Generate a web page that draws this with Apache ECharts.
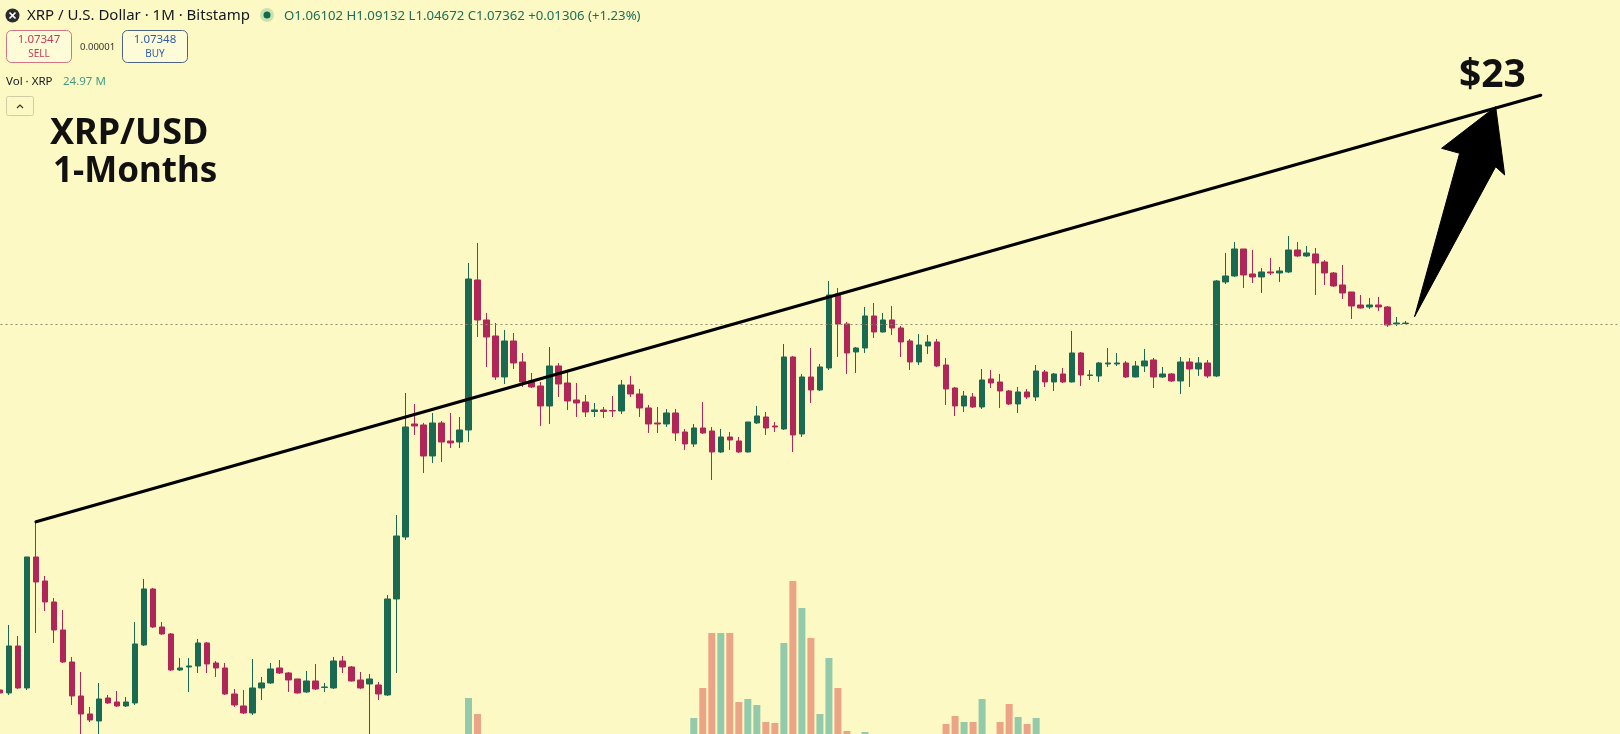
<!DOCTYPE html>
<html>
<head>
<meta charset="utf-8">
<script src="https://cdn.jsdelivr.net/npm/echarts/dist/echarts.min.js"></script>
<style>
  html, body { margin: 0; padding: 0; background: #fdf9c4; }
  #main { width: 1620px; height: 734px; }
</style>
</head>
<body>
<div id="main"></div>
<script>
// monthly candles: [open, close, low, high]
const candles = [
  [0.1563, 0.1488, 0.0313, 0.1863], [0.1488, 0.2663, 0.1438, 0.3188], [0.2663, 0.1613, 0.1588, 0.2913],
  [0.1613, 0.4888, 0.1563, 0.4888], [0.4888, 0.4263, 0.2988, 0.5770], [0.4288, 0.3763, 0.3538, 0.4413],
  [0.3763, 0.3063, 0.2738, 0.3863], [0.3063, 0.2263, 0.2238, 0.3563], [0.2263, 0.1413, 0.1188, 0.2388],
  [0.1413, 0.0963, 0.0313, 0.2013], [0.0963, 0.0813, 0.0763, 0.1138], [0.0788, 0.1338, 0.0313, 0.1738],
  [0.1363, 0.1238, 0.1213, 0.1438], [0.1263, 0.1163, 0.1138, 0.1538], [0.1163, 0.1263, 0.1138, 0.1388],
  [0.1238, 0.2713, 0.1188, 0.3263], [0.2688, 0.4088, 0.2663, 0.4338], [0.4088, 0.3138, 0.3113, 0.4113],
  [0.3138, 0.2963, 0.2938, 0.3263], [0.2963, 0.2063, 0.2038, 0.2988], [0.2063, 0.2113, 0.2038, 0.2363],
  [0.2138, 0.2163, 0.1513, 0.2363], [0.2163, 0.2738, 0.1988, 0.2838], [0.2738, 0.2213, 0.1988, 0.2763],
  [0.2238, 0.2113, 0.1888, 0.2288], [0.2113, 0.1463, 0.1438, 0.2238], [0.1463, 0.1188, 0.1138, 0.1588],
  [0.1163, 0.0988, 0.0963, 0.1563], [0.0988, 0.1613, 0.0938, 0.2338], [0.1613, 0.1738, 0.1313, 0.1888],
  [0.1738, 0.2088, 0.1713, 0.2238], [0.2113, 0.1988, 0.1963, 0.2313], [0.1988, 0.1813, 0.1513, 0.2013],
  [0.1838, 0.1488, 0.1475, 0.1838], [0.1513, 0.1788, 0.1488, 0.2038], [0.1788, 0.1588, 0.1563, 0.2213],
  [0.1625, 0.1638, 0.1513, 0.1738], [0.1613, 0.2288, 0.1588, 0.2388], [0.2288, 0.2138, 0.1988, 0.2413],
  [0.2138, 0.1788, 0.1775, 0.2163], [0.1813, 0.1613, 0.1588, 0.2013], [0.1713, 0.1838, 0.0188, 0.1963],
  [0.1688, 0.1463, 0.1313, 0.1763], [0.1438, 0.3838, 0.1413, 0.3938], [0.3838, 0.5413, 0.1988, 0.5938],
  [0.5388, 0.8138, 0.5313, 0.8988], [0.8213, 0.8163, 0.7938, 0.8713], [0.8188, 0.7413, 0.6988, 0.8238],
  [0.7413, 0.8238, 0.7238, 0.8488], [0.8238, 0.7763, 0.7263, 0.8288], [0.7788, 0.7738, 0.7613, 0.8488],
  [0.7763, 0.8063, 0.7613, 0.8388], [0.8063, 1.1838, 0.7763, 1.2238], [1.1813, 1.0813, 1.0388, 1.2738],
  [1.0813, 1.0388, 0.9638, 1.0988], [1.0413, 0.9388, 0.9313, 1.0738], [0.9388, 1.0288, 0.9213, 1.0563],
  [1.0288, 0.9738, 0.9588, 1.0488], [0.9763, 0.9263, 0.9138, 0.9988], [0.9288, 0.9138, 0.9113, 0.9488],
  [0.9163, 0.8663, 0.8163, 0.9263], [0.8663, 0.9663, 0.8213, 1.0138], [0.9663, 0.9213, 0.8888, 0.9738],
  [0.9238, 0.8788, 0.8563, 0.9563], [0.8813, 0.8738, 0.8388, 0.9238], [0.8763, 0.8513, 0.8388, 0.8938],
  [0.8525, 0.8563, 0.8388, 0.8738], [0.8563, 0.8525, 0.8363, 0.8638], [0.8550, 0.8538, 0.8388, 0.8913],
  [0.8538, 0.9188, 0.8463, 0.9313], [0.9188, 0.8963, 0.8888, 0.9413], [0.8963, 0.8613, 0.8388, 0.9088],
  [0.8613, 0.8213, 0.7988, 0.8688], [0.8238, 0.8213, 0.7988, 0.8638], [0.8213, 0.8488, 0.8138, 0.8588],
  [0.8488, 0.7988, 0.7788, 0.8588], [0.8013, 0.7713, 0.7563, 0.8088], [0.7713, 0.8113, 0.7638, 0.8213],
  [0.8113, 0.7988, 0.7963, 0.8763], [0.8038, 0.7513, 0.6813, 0.8138], [0.7513, 0.7888, 0.7488, 0.8088],
  [0.7888, 0.7813, 0.7563, 0.8013], [0.7788, 0.7513, 0.7488, 0.7888], [0.7513, 0.8263, 0.7500, 0.8263],
  [0.8238, 0.8413, 0.8213, 0.8663], [0.8388, 0.8113, 0.7938, 0.8513], [0.8163, 0.8138, 0.8013, 0.8263],
  [0.8088, 0.9888, 0.8063, 1.0213], [0.9888, 0.7938, 0.7513, 0.9913], [0.7963, 0.9388, 0.7888, 0.9463],
  [0.9388, 0.9063, 0.8738, 1.0113], [0.9063, 0.9638, 0.9038, 0.9713], [0.9613, 1.1438, 0.9563, 1.1788],
  [1.1463, 1.0713, 0.9888, 1.1613], [1.0713, 0.9988, 0.9463, 1.0763], [1.0013, 1.0113, 0.9488, 1.0138],
  [1.0113, 1.0913, 0.9988, 1.1138], [1.0913, 1.0513, 1.0363, 1.1238], [1.0513, 1.0813, 1.0500, 1.0988],
  [1.0813, 1.0613, 1.0438, 1.1163], [1.0613, 1.0263, 0.9888, 1.0663], [1.0288, 0.9763, 0.9563, 1.0338],
  [0.9763, 1.0188, 0.9688, 1.0463], [1.0163, 1.0263, 0.9963, 1.0438], [1.0263, 0.9663, 0.9638, 1.0338],
  [0.9688, 0.9088, 0.8688, 0.9863], [0.9113, 0.8663, 0.8413, 0.9138], [0.8663, 0.8913, 0.8513, 0.9038],
  [0.8888, 0.8638, 0.8613, 0.8988], [0.8638, 0.9313, 0.8588, 0.9588], [0.9338, 0.9238, 0.9113, 0.9563],
  [0.9263, 0.9038, 0.8613, 0.9463], [0.9038, 0.8713, 0.8688, 0.9063], [0.8713, 0.9013, 0.8488, 0.9138],
  [0.9013, 0.8888, 0.8838, 0.9088], [0.8888, 0.9538, 0.8788, 0.9688], [0.9513, 0.9263, 0.9138, 0.9563],
  [0.9263, 0.9463, 0.9038, 0.9488], [0.9463, 0.9263, 0.9238, 0.9613], [0.9263, 0.9988, 0.9250, 1.0538],
  [0.9988, 0.9438, 0.9163, 1.0013], [0.9425, 0.9438, 0.9313, 0.9563], [0.9413, 0.9738, 0.9263, 0.9763],
  [0.9713, 0.9738, 0.9638, 1.0113], [0.9713, 0.9738, 0.9663, 0.9988], [0.9738, 0.9388, 0.9363, 0.9788],
  [0.9388, 0.9663, 0.9375, 0.9788], [0.9663, 0.9788, 0.9513, 1.0088], [0.9813, 0.9388, 0.9113, 0.9863],
  [0.9388, 0.9463, 0.9363, 0.9638], [0.9463, 0.9288, 0.9263, 0.9488], [0.9288, 0.9763, 0.8963, 0.9888],
  [0.9763, 0.9588, 0.9138, 0.9863], [0.9588, 0.9738, 0.9413, 0.9888], [0.9738, 0.9413, 0.9363, 0.9813],
  [0.9413, 1.1788, 0.9388, 1.1813], [1.1763, 1.1913, 1.1713, 1.2488], [1.1913, 1.2588, 1.1888, 1.2763],
  [1.2588, 1.1938, 1.1613, 1.2588], [1.1963, 1.1888, 1.1738, 1.2563], [1.1888, 1.2013, 1.1488, 1.2113],
  [1.2013, 1.1988, 1.1938, 1.2363], [1.1988, 1.2038, 1.1763, 1.2138], [1.2013, 1.2563, 1.1988, 1.2913],
  [1.2563, 1.2413, 1.2388, 1.2763], [1.2413, 1.2488, 1.2388, 1.2663], [1.2463, 1.2238, 1.1438, 1.2613],
  [1.2263, 1.1988, 1.1688, 1.2313], [1.1988, 1.1663, 1.1638, 1.2013], [1.1688, 1.1488, 1.1338, 1.2188],
  [1.1513, 1.1163, 1.0838, 1.1513], [1.1188, 1.1113, 1.1100, 1.1438], [1.1138, 1.1188, 1.1088, 1.1363],
  [1.1188, 1.1138, 1.1038, 1.1388], [1.1138, 1.0688, 1.0638, 1.1163], [1.0713, 1.0738, 1.0663, 1.0888],
  [1.0725, 1.0736, 1.0713, 1.0788]
];

// monthly volume, millions of XRP
const volumes = [
  12, 18, 15, 30, 28, 20, 22, 19, 24, 26, 14, 22, 10, 11, 9, 25, 27, 21, 12, 20,
  11, 14, 16, 15, 10, 17, 12, 13, 18, 10, 14, 9, 11, 13, 10, 12, 8, 15, 10, 12,
  11, 16, 12, 30, 34, 38, 20, 25, 22, 19, 18, 24, 58, 50, 36, 34, 30, 28, 26, 18,
  32, 35, 27, 25, 20, 18, 14, 13, 15, 28, 22, 24, 30, 26, 33, 36, 38, 48, 63, 90.5,
  90.5, 90.5, 56, 57.5, 54.5, 46, 45.5, 85.5, 116.5, 103, 88, 50, 78, 63, 41.5, 36, 41, 37, 30, 34,
  35, 32, 30, 26, 38, 45, 49, 46, 46, 57.5, 37, 46, 55, 48.5, 45, 48, 36, 30, 32, 38,
  36, 24, 30, 27, 22, 31, 26, 28, 34, 22, 20, 35, 30, 26, 28, 39, 33, 36, 34, 30,
  28, 25, 24, 32, 26, 22, 34, 30, 27, 31, 33, 26, 24, 25, 30, 22, 24.97
];

const slotCount = 180;
const months = Array.from({ length: slotCount }, (_, i) => 'M' + (i + 1));

const lastClose = 1.0736;

// hand-drawn resistance line: [slot, price]
const trendLine = [[4, 0.577], [171.15, 1.643]];

// hand-drawn arrow outline: [slot, price]
const arrowShape = [
  [156.86, 1.0895], [162.04, 1.498], [160.01, 1.5105], [165.93, 1.6145],
  [167.4, 1.4438], [165.93, 1.4645], [157.41, 1.0895]
];

const upColor = '#1a6a51';
const downColor = '#b12659';
const upVol = '#93caab';
const downVol = '#eca486';
const slotW = 9.01;
const font = '"Noto Sans", "Open Sans", sans-serif';

const chart = echarts.init(document.getElementById('main'));

const volData = volumes.map((v, i) => ({
  value: v,
  itemStyle: { color: candles[i][1] >= candles[i][0] ? upVol : downVol }
}));

chart.setOption({
  backgroundColor: '#fdf9c4',
  animation: false,
  grid: [
    { left: -slotW / 2, width: slotCount * slotW, top: 0, height: 734, outerBoundsMode: 'none', containLabel: false },
    { left: -slotW / 2, width: slotCount * slotW, top: 514, height: 220, outerBoundsMode: 'none', containLabel: false }
  ],
  xAxis: [
    { type: 'category', data: months, gridIndex: 0, show: false },
    { type: 'category', data: months, gridIndex: 1, show: false }
  ],
  yAxis: [
    { type: 'value', gridIndex: 0, min: 0.04625, max: 1.88125, show: false, splitLine: { show: false } },
    // volume pane: bars below 40M fall under the bottom edge of the screenshot
    { type: 'value', gridIndex: 1, min: 40, max: 150, show: false, splitLine: { show: false } }
  ],
  series: [
    {
      type: 'bar',
      xAxisIndex: 1,
      yAxisIndex: 1,
      data: volData,
      barWidth: 7,
      clip: true,
      silent: true,
      z: 1
    },
    {
      type: 'candlestick',
      xAxisIndex: 0,
      yAxisIndex: 0,
      data: candles,
      barWidth: 6,
      silent: true,
      z: 3,
      itemStyle: {
        color: upColor,
        color0: downColor,
        borderColor: upColor,
        borderColor0: downColor,
        borderWidth: 1
      },
      markLine: {
        silent: true,
        symbol: 'none',
        label: { show: false },
        lineStyle: { type: [2, 3], color: '#8c8a70', width: 1 },
        data: [{ yAxis: lastClose }]
      }
    },
    {
      type: 'line',
      xAxisIndex: 0,
      yAxisIndex: 0,
      data: trendLine,
      symbol: 'none',
      silent: true,
      z: 5,
      lineStyle: { color: '#000', width: 3.2, cap: 'round' }
    },
    {
      type: 'custom',
      xAxisIndex: 0,
      yAxisIndex: 0,
      data: [[160, 1.3]],
      silent: true,
      z: 6,
      clip: false,
      renderItem: (params, api) => ({
        type: 'polygon',
        shape: { points: arrowShape.map(p => api.coord(p)) },
        style: { fill: '#000', stroke: '#000', lineWidth: 1, lineJoin: 'round' }
      })
    }
  ],
  graphic: [
    { type: 'circle', shape: { cx: 12.5, cy: 15.5, r: 7 }, style: { fill: '#2b2b2b' } },
    { type: 'line', shape: { x1: 9.5, y1: 12.5, x2: 15.5, y2: 18.5 }, style: { stroke: '#fff', lineWidth: 1.7 } },
    { type: 'line', shape: { x1: 15.5, y1: 12.5, x2: 9.5, y2: 18.5 }, style: { stroke: '#fff', lineWidth: 1.7 } },
    { type: 'text', x: 27, y: 16, style: { text: 'XRP / U.S. Dollar · 1M · Bitstamp', font: '15px ' + font, fill: '#131722', verticalAlign: 'middle' } },
    { type: 'circle', shape: { cx: 267, cy: 15, r: 7 }, style: { fill: 'rgba(30,140,100,0.22)' } },
    { type: 'circle', shape: { cx: 267, cy: 15, r: 3.5 }, style: { fill: '#0d6b4f' } },
    { type: 'text', x: 284, y: 16, style: { text: 'O1.06102 H1.09132 L1.04672 C1.07362 +0.01306 (+1.23%)', font: '13.2px ' + font, fill: '#1d6e59', verticalAlign: 'middle' } },

    { type: 'rect', shape: { x: 6.5, y: 30.5, width: 65, height: 32, r: 5 }, style: { fill: 'rgba(255,255,255,0.35)', stroke: '#d07484', lineWidth: 1 } },
    { type: 'text', x: 39, y: 40, style: { text: '1.07347', font: '11.5px ' + font, fill: '#c23d5a', align: 'center', verticalAlign: 'middle' } },
    { type: 'text', x: 39, y: 54, style: { text: 'SELL', font: '10px ' + font, fill: '#c23d5a', align: 'center', verticalAlign: 'middle' } },
    { type: 'text', x: 80, y: 47, style: { text: '0.00001', font: '9.5px ' + font, fill: '#333', verticalAlign: 'middle' } },
    { type: 'rect', shape: { x: 122.5, y: 30.5, width: 65, height: 32, r: 5 }, style: { fill: 'rgba(255,255,255,0.35)', stroke: '#4c6283', lineWidth: 1 } },
    { type: 'text', x: 155, y: 40, style: { text: '1.07348', font: '11.5px ' + font, fill: '#2f5ea6', align: 'center', verticalAlign: 'middle' } },
    { type: 'text', x: 155, y: 54, style: { text: 'BUY', font: '10px ' + font, fill: '#2f5ea6', align: 'center', verticalAlign: 'middle' } },

    { type: 'text', x: 6, y: 82, style: { text: 'Vol · XRP', font: '11.5px ' + font, fill: '#131722', verticalAlign: 'middle' } },
    { type: 'text', x: 63, y: 82, style: { text: '24.97 M', font: '11.5px ' + font, fill: '#3f9c84', verticalAlign: 'middle' } },
    { type: 'rect', shape: { x: 6.5, y: 96.5, width: 27, height: 19, r: 2 }, style: { fill: 'none', stroke: '#cfcca6', lineWidth: 1 } },
    { type: 'polyline', shape: { points: [[17, 108], [20, 105], [23, 108]] }, style: { stroke: '#333', lineWidth: 1.2, fill: 'none' } },

    { type: 'text', x: 50, y: 134, style: { text: 'XRP/USD', font: 'bold 36px ' + font, fill: '#111', verticalAlign: 'middle' } },
    { type: 'text', x: 53, y: 172, style: { text: '1-Months', font: 'bold 35px ' + font, fill: '#111', verticalAlign: 'middle' } },
    { type: 'text', x: 1459, y: 76, style: { text: '$23', font: 'bold 39px ' + font, fill: '#111', verticalAlign: 'middle' } }
  ]
});
</script>
</body>
</html>
